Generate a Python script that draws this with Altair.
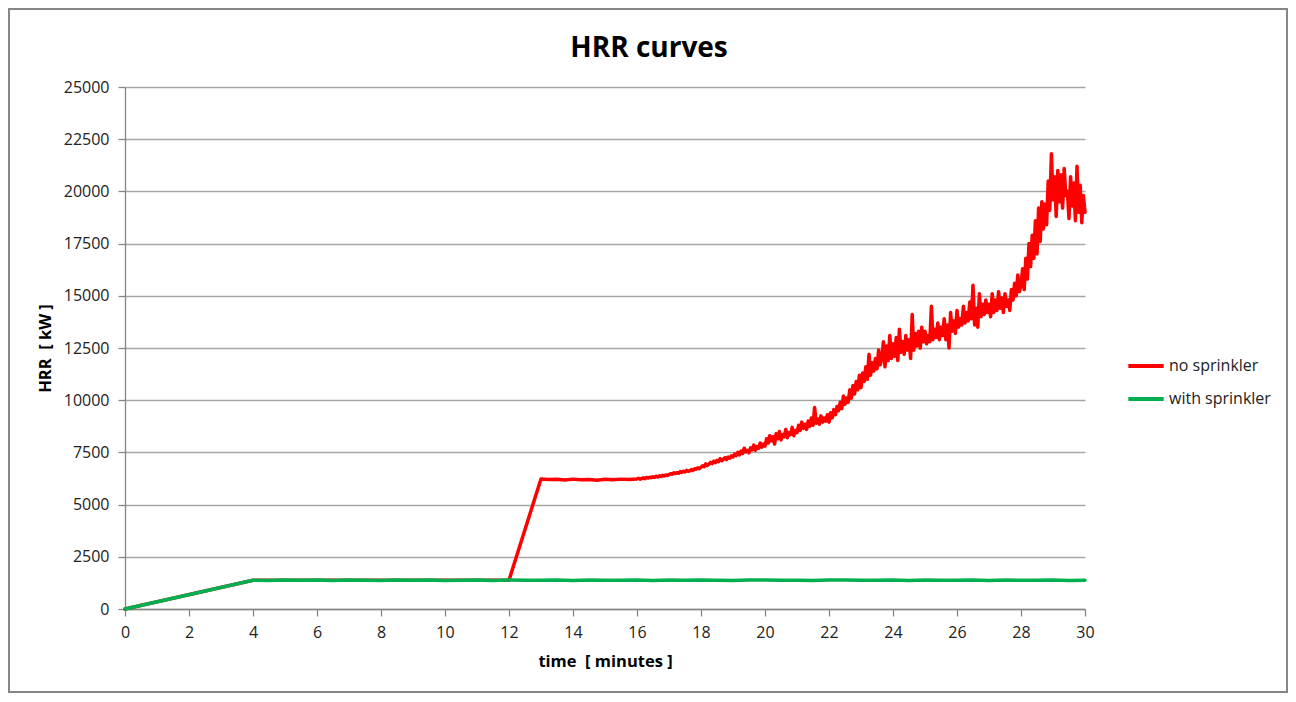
import altair as alt
import pandas as pd

# ---- data ----
red_name = "no sprinkler"
green_name = "with sprinkler"

red_t_head = [0.0, 4.0, 12.0, 13.0, 13.25, 13.5, 13.75, 14.0, 14.25, 14.5, 14.75,
              15.0, 15.25, 15.5, 15.75]
red_hrr_head = [0, 1380, 1380, 6230, 6200, 6210, 6180, 6220, 6190, 6200, 6170,
                6210, 6190, 6220, 6200]

# 16.00 .. 30.00, every 0.05 minute, one row per minute
red_rows = [
    [6230, 6260, 6220, 6250, 6280, 6240, 6300, 6270, 6310, 6290,
     6330, 6300, 6360, 6320, 6380, 6350, 6400, 6370, 6420, 6390],
    [6440, 6480, 6450, 6520, 6490, 6530, 6500, 6580, 6540, 6600,
     6560, 6640, 6600, 6620, 6680, 6640, 6720, 6690, 6760, 6720],
    [6790, 6860, 6820, 6950, 6870, 6940, 7020, 6960, 7080, 7010,
     7120, 7060, 7200, 7100, 7170, 7250, 7150, 7280, 7220, 7330],
    [7280, 7420, 7350, 7500, 7380, 7560, 7450, 7700, 7520, 7600,
     7480, 7720, 7620, 7850, 7600, 7780, 7700, 7950, 7750, 7900],
    [7800, 8150, 7950, 8300, 8050, 8250, 7900, 8400, 8150, 8500,
     8100, 8350, 8250, 8600, 8200, 8450, 8350, 8700, 8300, 8550],
    [8450, 8800, 8550, 8950, 8650, 8850, 8600, 9000, 8750, 9150,
     8800, 9650, 8900, 9100, 8850, 9250, 8950, 9150, 9000, 9300],
    [8950, 9400, 9150, 9550, 9300, 9700, 9500, 9900, 9600, 10200,
     9800, 10100, 9900, 10500, 10100, 10700, 10300, 10900, 10500, 11200],
    [10600, 11300, 10900, 11600, 11000, 12200, 11200, 11800, 11400, 12000,
     11500, 12400, 11700, 12000, 12800, 11600, 12600, 11900, 13100, 12000],
    [12700, 12100, 13000, 11900, 13400, 12300, 12800, 12200, 13100, 12400,
     12900, 12000, 14100, 12400, 13200, 12600, 13300, 12500, 13500, 12800],
    [13300, 12700, 13100, 12800, 14500, 12900, 13400, 13000, 13700, 12900,
     13500, 13100, 13900, 12900, 13600, 12500, 14200, 13300, 13800, 13200],
    [14300, 13500, 13900, 13600, 14500, 13700, 14200, 13800, 14700, 13900,
     15500, 13600, 14400, 13500, 15100, 14000, 14600, 14100, 14800, 14200],
    [14600, 14000, 15100, 14200, 14800, 14300, 15200, 14400, 14900, 14200,
     15100, 14500, 14800, 14300, 15300, 14800, 15600, 15000, 16000, 15200],
    [15500, 16300, 15300, 16800, 15800, 17500, 16400, 17900, 16800, 18600,
     17000, 19200, 17600, 19500, 18200, 19400, 18400, 20500, 19100, 21800],
    [19600, 20700, 18800, 21000, 19500, 20800, 19200, 21100, 19800, 20000,
     18700, 20700, 19300, 20400, 18600, 21200, 19000, 20300, 18500, 19800],
    [19000],
]
for row in red_rows[:-1]:
    assert len(row) == 20
red_hrr_tail = [v for row in red_rows for v in row]
red_t_tail = [round(16.0 + i * 0.05, 2) for i in range(len(red_hrr_tail))]

green_t = [0.0, 4.0, 4.5, 5.0, 5.5, 6.0, 6.5, 7.0, 7.5, 8.0, 8.5, 9.0, 9.5, 10.0,
           10.5, 11.0, 11.5, 12.0, 12.5, 13.0, 13.5, 14.0, 14.5, 15.0, 15.5, 16.0,
           16.5, 17.0, 17.5, 18.0, 18.5, 19.0, 19.5, 20.0, 20.5, 21.0, 21.5, 22.0,
           22.5, 23.0, 23.5, 24.0, 24.5, 25.0, 25.5, 26.0, 26.5, 27.0, 27.5, 28.0,
           28.5, 29.0, 29.5, 30.0]
green_hrr = [0, 1380, 1370, 1390, 1375, 1385, 1365, 1390, 1380, 1370, 1385, 1375,
             1390, 1370, 1380, 1385, 1370, 1390, 1375, 1380, 1390, 1370, 1385, 1375,
             1380, 1390, 1370, 1385, 1375, 1390, 1380, 1370, 1385, 1390, 1375, 1380,
             1370, 1390, 1385, 1375, 1380, 1390, 1370, 1385, 1380, 1375, 1390, 1370,
             1385, 1380, 1375, 1390, 1370, 1380]

x_ticks = list(range(0, 31, 2))
y_ticks = list(range(0, 25001, 2500))

red_df = pd.DataFrame({"t": red_t_head + red_t_tail,
                       "hrr": red_hrr_head + red_hrr_tail,
                       "series": red_name})
red_df["order"] = range(len(red_df))
green_df = pd.DataFrame({"t": green_t, "hrr": green_hrr, "series": green_name})
green_df["order"] = range(len(green_df))

FONT = "Open Sans"
GRAY = "#868686"

color = alt.Color(
    "series:N",
    scale=alt.Scale(domain=[red_name, green_name], range=["#FF0000", "#00B050"]),
    legend=alt.Legend(
        title=None, orient="none", legendX=1001, legendY=259,
        symbolType="stroke", symbolSize=1250, symbolStrokeWidth=4,
        labelFont=FONT, labelFontSize=16, labelColor="#222222",
        labelOffset=3, rowPadding=5,
    ),
)

x = alt.X("t:Q", scale=alt.Scale(domain=[0, 30], nice=False),
          axis=alt.Axis(title="time\u00a0 [ minutes ]", values=x_ticks, grid=False,
                        format="d", labelFlush=False))
y = alt.Y("hrr:Q", scale=alt.Scale(domain=[0, 25000], nice=False),
          axis=alt.Axis(title="HRR\u00a0 [ kW ]", values=y_ticks, grid=True,
                        format="d"))

base_line = dict(strokeWidth=3.5, strokeJoin="round", strokeCap="round")

red = alt.Chart(red_df).mark_line(**base_line).encode(
    x=x, y=y, color=color, order="order:Q")
green = alt.Chart(green_df).mark_line(**base_line).encode(
    x=x, y=y, color=color, order="order:Q")

frame = alt.Chart(alt.Data(values=[{}])).mark_rect(
    fill="transparent", stroke=GRAY, strokeWidth=2
).encode(x=alt.value(-116), x2=alt.value(1162), y=alt.value(-78), y2=alt.value(605))

chart = alt.layer(frame, red, green).properties(
    width=960, height=522,
    title=alt.Title("HRR curves", font=FONT, fontSize=28, fontWeight="bold",
                    color="#000000", anchor="middle", dx=44, offset=-77,
                    baseline="alphabetic"),
    autosize=alt.AutoSizeParams(type="none"),
    padding={"left": 117, "top": 79, "right": 203, "bottom": 85},
).configure_view(stroke=None).configure_axis(
    labelFont=FONT, labelFontSize=16, labelColor="#222222",
    titleFont=FONT, titleFontSize=16.5, titleFontWeight="bold", titleColor="#000000",
    domainColor=GRAY, domainWidth=1.3, tickColor=GRAY, tickWidth=1.3, tickSize=7,
    gridColor="#A6A6A6", gridWidth=1.3,
).configure_axisY(
    labelPadding=9, titlePadding=10,
).configure_axisX(
    labelPadding=8, titlePadding=13,
)

chart.save("out.html", embed_options={"renderer": "svg", "actions": False})
